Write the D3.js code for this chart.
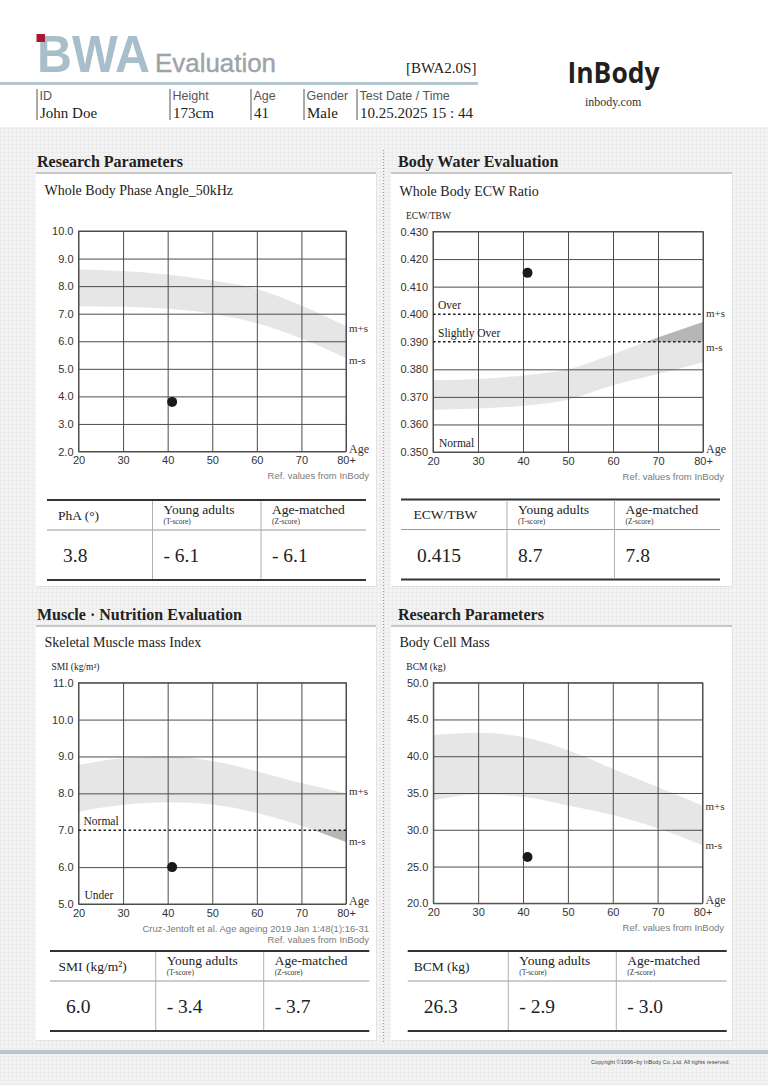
<!DOCTYPE html>
<html>
<head>
<meta charset="utf-8">
<script src="https://cdn.jsdelivr.net/npm/d3@7"></script>
<style>
  body { margin: 0; background: #fff; }
  svg { display: block; }
</style>
</head>
<body>
<div id="page"></div>
<script>
// ---- data ----
var ages = [20, 30, 40, 50, 60, 70, 80];
var ageLabels = ["20", "30", "40", "50", "60", "70", "80+"];

var profileLabels = ["ID", "Height", "Age", "Gender", "Test Date / Time"];
var profileValues = ["John Doe", "173cm", "41", "Male", "10.25.2025 15 : 44"];

var scoreHeaders = ["Young adults", "Age-matched"];
var scoreSubs = ["(T-score)", "(Z-score)"];

// Whole body phase angle 50kHz
var phaTicks = [2, 3, 4, 5, 6, 7, 8, 9, 10];
var phaUpper = [8.6, 8.55, 8.42, 8.2, 7.9, 7.3, 6.55];
var phaLower = [7.27, 7.25, 7.18, 7.0, 6.65, 6.1, 5.38];
var phaMeasured = [41, 3.8];
var phaBandLabels = [6.46, 5.33];
var phaScores = ["3.8", "- 6.1", "- 6.1"];

// Whole body ECW ratio
var ecwTicks = [0.35, 0.36, 0.37, 0.38, 0.39, 0.40, 0.41, 0.42, 0.43];
var ecwUpper = [0.3760, 0.3765, 0.3778, 0.3800, 0.3855, 0.3915, 0.3972];
var ecwLower = [0.3653, 0.3658, 0.3668, 0.3690, 0.3742, 0.3783, 0.3826];
var ecwMeasured = [41, 0.415];
var ecwBandLabels = [0.4003, 0.3879];
var ecwCutoffs = [0.400, 0.390];
var ecwZones = ["Over", "Slightly Over", "Normal"];
var ecwScores = ["0.415", "8.7", "7.8"];

// Skeletal muscle mass index
var smiTicks = [5, 6, 7, 8, 9, 10, 11];
var smiUpper = [8.77, 8.95, 9.0, 8.88, 8.6, 8.28, 8.0];
var smiLower = [7.5, 7.69, 7.76, 7.7, 7.47, 7.12, 6.68];
var smiMeasured = [41, 6.0];
var smiBandLabels = [8.05, 6.70];
var smiCutoffs = [7.0];
var smiZones = ["Normal", "Under"];
var smiScores = ["6.0", "- 3.4", "- 3.7"];

// Body cell mass
var bcmTicks = [20, 25, 30, 35, 40, 45, 50];
var bcmUpper = [42.9, 43.2, 42.6, 40.8, 38.3, 35.8, 33.3];
var bcmLower = [34.0, 34.8, 34.5, 33.3, 32.0, 30.2, 27.9];
var bcmMeasured = [41, 26.3];
var bcmBandLabels = [33.23, 27.92];
var bcmScores = ["26.3", "- 2.9", "- 3.0"];

// ---- drawing ----
var SERIF = "'Liberation Serif', 'Times New Roman', serif";
var SANS = "'Liberation Sans', Arial, sans-serif";

var svg = d3.select("#page").append("svg")
    .attr("width", 768)
    .attr("height", 1085);
var defs = svg.append("defs");

var pat = defs.append("pattern")
    .attr("id", "bgpat")
    .attr("width", 4).attr("height", 4)
    .attr("patternUnits", "userSpaceOnUse");
pat.append("rect").attr("width", 4).attr("height", 4).attr("fill", "#f4f4f4");
pat.append("rect").attr("width", 4).attr("height", 1).attr("fill", "#ececec");
pat.append("rect").attr("width", 1).attr("height", 4).attr("fill", "#ececec");

// page background
svg.append("rect").attr("width", 768).attr("height", 1085).attr("fill", "#fff");
svg.append("rect").attr("y", 127).attr("width", 768).attr("height", 958).attr("fill", "url(#bgpat)");

// header
svg.append("text")
    .attr("x", 37).attr("y", 72)
    .attr("font-family", SANS).attr("font-weight", "bold").attr("font-size", 52)
    .attr("textLength", 113).attr("lengthAdjust", "spacingAndGlyphs")
    .attr("fill", "#a8bfcb")
    .text("BWA");
svg.append("rect").attr("x", 36.5).attr("y", 34).attr("width", 8.5).attr("height", 8).attr("fill", "#a6192e");
svg.append("text")
    .attr("x", 155).attr("y", 72)
    .attr("font-family", SANS).attr("font-size", 25.5)
    .attr("textLength", 121).attr("lengthAdjust", "spacingAndGlyphs")
    .attr("fill", "#9da4a9")
    .attr("stroke", "#9da4a9").attr("stroke-width", 0.4)
    .text("Evaluation");
svg.append("text")
    .attr("x", 406).attr("y", 73)
    .attr("font-family", SERIF).attr("font-size", 15)
    .attr("fill", "#222")
    .text("[BWA2.0S]");
svg.append("rect").attr("x", 0).attr("y", 82).attr("width", 478).attr("height", 3).attr("fill", "#b5c8d2");

var profileX = [37, 170, 251, 304, 357];
profileLabels.forEach(function(lab, i) {
    svg.append("line")
        .attr("x1", profileX[i]).attr("x2", profileX[i])
        .attr("y1", 89).attr("y2", 120)
        .attr("stroke", "#555").attr("stroke-width", 1);
    svg.append("text")
        .attr("x", profileX[i] + 2.5).attr("y", 100)
        .attr("font-family", SANS).attr("font-size", 12.5)
        .attr("fill", "#555")
        .text(lab);
    svg.append("text")
        .attr("x", profileX[i] + 3).attr("y", 118)
        .attr("font-family", SERIF).attr("font-size", 15)
        .attr("fill", "#222")
        .text(profileValues[i]);
});

svg.append("text")
    .attr("x", 567.5).attr("y", 83)
    .attr("font-family", "'Open Sans', Arial, sans-serif").attr("font-weight", 700).attr("font-size", 28)
    .attr("textLength", 92).attr("lengthAdjust", "spacingAndGlyphs")
    .attr("fill", "#231f20")
    .text("InBody");
svg.append("text")
    .attr("x", 585).attr("y", 106)
    .attr("font-family", SERIF).attr("font-size", 12)
    .attr("fill", "#333")
    .text("inbody.com");

// dotted divider between columns
svg.append("line")
    .attr("x1", 383.5).attr("x2", 383.5)
    .attr("y1", 150).attr("y2", 1042)
    .attr("stroke", "#999").attr("stroke-width", 1.2)
    .attr("stroke-dasharray", "1,2");

// footer
svg.append("rect").attr("x", 0).attr("y", 1050).attr("width", 768).attr("height", 4).attr("fill", "#b4c7d1");
svg.append("text")
    .attr("x", 730).attr("y", 1063.5)
    .attr("text-anchor", "end")
    .attr("font-family", SANS).attr("font-size", 5.6)
    .attr("fill", "#444")
    .text("Copyright \u00a91996~by InBody Co.,Ltd. All rights reserved.");

function drawPanel(p) {
    svg.append("rect")
        .attr("x", p.x + 1).attr("y", p.line + 1)
        .attr("width", p.w).attr("height", p.bottom - p.line)
        .attr("fill", "#e2e2e2");
    svg.append("rect")
        .attr("x", p.x).attr("y", p.line)
        .attr("width", p.w).attr("height", p.bottom - p.line)
        .attr("fill", "#fff");
    svg.append("line")
        .attr("x1", p.x).attr("x2", p.x + p.w)
        .attr("y1", p.line).attr("y2", p.line)
        .attr("stroke", "#c8c8c8").attr("stroke-width", 2);
    svg.append("text")
        .attr("x", p.titleX).attr("y", p.line - 6.5)
        .attr("font-family", SERIF).attr("font-weight", "bold").attr("font-size", 16)
        .attr("fill", "#222")
        .text(p.title);
}

function same(a, b) { return Math.abs(a - b) < 1e-9; }

function drawChart(c) {
    var B = c.box;
    var w = B.right - B.left, h = B.bottom - B.top;
    var x = d3.scaleLinear().domain([20, 80]).range([B.left, B.right]);
    var y = d3.scaleLinear().domain(d3.extent(c.ticks)).range([B.bottom, B.top]);
    var g = svg.append("g");
    var cutoffs = c.cutoffs || [];

    g.append("text")
        .attr("x", c.panelX + 8.5).attr("y", B.top - 36)
        .attr("font-family", SERIF).attr("font-size", 14)
        .attr("fill", "#222")
        .text(c.subtitle);
    if (c.unit) {
        g.append("text")
            .attr("x", B.left - 27).attr("y", B.top - 13)
            .attr("font-family", SERIF).attr("font-size", 9.5)
            .attr("fill", "#222")
            .text(c.unit);
    }

    defs.append("clipPath").attr("id", "clip-" + c.id)
        .append("rect").attr("x", B.left).attr("y", B.top).attr("width", w).attr("height", h);

    var band = d3.area()
        .x(function(d, i) { return x(ages[i]); })
        .y0(function(d, i) { return y(c.lower[i]); })
        .y1(function(d) { return y(d); })
        .curve(d3.curveMonotoneX);

    g.append("path")
        .datum(c.upper)
        .attr("d", band)
        .attr("fill", "#e6e6e6")
        .attr("clip-path", "url(#clip-" + c.id + ")");

    if (c.dark) {
        var yc = y(c.dark.value);
        var r = c.dark.side === "above" ? [B.top, yc] : [yc, B.bottom];
        defs.append("clipPath").attr("id", "dark-" + c.id)
            .append("rect").attr("x", B.left).attr("y", r[0]).attr("width", w).attr("height", r[1] - r[0]);
        g.append("path")
            .datum(c.upper)
            .attr("d", band)
            .attr("fill", "#b6b6b6")
            .attr("clip-path", "url(#dark-" + c.id + ")");
    }

    // grid + tick labels
    g.append("g")
        .attr("transform", "translate(" + B.left + ",0)")
        .call(d3.axisLeft(y).tickValues(c.ticks).tickFormat(d3.format(c.fmt)).tickSize(-w).tickPadding(5))
        .call(function(a) { a.select(".domain").remove(); })
        .call(function(a) {
            a.selectAll(".tick line")
                .attr("stroke", "#4d4d4d")
                .attr("stroke-opacity", function(d) {
                    return cutoffs.some(function(v) { return same(v, d); }) ? 0 : 1;
                });
        })
        .call(function(a) {
            a.selectAll("text").attr("font-family", SANS).attr("font-size", 11).attr("fill", "#333");
        });

    g.append("g")
        .attr("transform", "translate(0," + B.bottom + ")")
        .call(d3.axisBottom(x).tickValues(ages).tickFormat(function(d, i) { return ageLabels[i]; }).tickSize(-h).tickPadding(5))
        .call(function(a) { a.select(".domain").remove(); })
        .call(function(a) { a.selectAll(".tick line").attr("stroke", "#4d4d4d"); })
        .call(function(a) {
            a.selectAll("text").attr("font-family", SANS).attr("font-size", 11).attr("fill", "#333");
        });

    g.append("rect")
        .attr("x", B.left).attr("y", B.top).attr("width", w).attr("height", h)
        .attr("fill", "none").attr("stroke", "#4d4d4d").attr("stroke-width", 1);

    // cut-off lines and zone names
    cutoffs.forEach(function(v, i) {
        g.append("line")
            .attr("x1", B.left).attr("x2", B.right)
            .attr("y1", y(v)).attr("y2", y(v))
            .attr("stroke", "#222").attr("stroke-width", 1.4)
            .attr("stroke-dasharray", "2.6,2.4");
        g.append("text")
            .attr("x", B.left + 5).attr("y", y(v) - 5)
            .attr("font-family", SERIF).attr("font-size", 11.5)
            .attr("fill", "#222")
            .text(c.zones[i]);
    });
    if (c.zones) {
        g.append("text")
            .attr("x", B.left + 6).attr("y", B.bottom - 5.5)
            .attr("font-family", SERIF).attr("font-size", 11.5)
            .attr("fill", "#222")
            .text(c.zones[c.zones.length - 1]);
    }

    // m+s / m-s, Age
    ["m+s", "m-s"].forEach(function(t, i) {
        g.append("text")
            .attr("x", B.right + 3).attr("y", y(c.bandLabels[i]))
            .attr("dy", "0.35em")
            .attr("font-family", SERIF).attr("font-size", 11)
            .attr("fill", "#333")
            .text(t);
    });
    g.append("text")
        .attr("x", B.right + 3).attr("y", B.bottom + 1)
        .attr("font-family", SERIF).attr("font-size", 12)
        .attr("fill", "#333")
        .text("Age");

    // notes
    c.notes.forEach(function(t, i) {
        g.append("text")
            .attr("x", c.panelX + 333).attr("y", B.bottom + 27.5 + i * 11)
            .attr("text-anchor", "end")
            .attr("font-family", SANS).attr("font-size", 9.5)
            .attr("fill", "#7a7a7a")
            .text(t);
    });

    // measured point
    g.append("circle")
        .attr("cx", x(c.measured[0]))
        .attr("cy", y(c.measured[1]))
        .attr("r", 5)
        .attr("fill", "#1a1a1a");

    drawTable(c.table, c.tableHead, c.scores);
}

function drawTable(t, head, scores) {
    var cx = t.cols, ty = t.y;
    var g = svg.append("g");
    g.append("line").attr("x1", cx[0]).attr("x2", cx[3]).attr("y1", ty).attr("y2", ty)
        .attr("stroke", "#333").attr("stroke-width", 2);
    g.append("line").attr("x1", cx[0]).attr("x2", cx[3]).attr("y1", ty + 30).attr("y2", ty + 30)
        .attr("stroke", "#9a9a9a").attr("stroke-width", 1);
    g.append("line").attr("x1", cx[0]).attr("x2", cx[3]).attr("y1", ty + 80).attr("y2", ty + 80)
        .attr("stroke", "#333").attr("stroke-width", 2);
    [1, 2].forEach(function(k) {
        g.append("line").attr("x1", cx[k]).attr("x2", cx[k]).attr("y1", ty + 1).attr("y2", ty + 79)
            .attr("stroke", "#b0b0b0").attr("stroke-width", 1);
    });

    g.append("text")
        .attr("x", cx[0] + t.pad).attr("y", ty + 19.5)
        .attr("font-family", SERIF).attr("font-size", 13.5)
        .attr("fill", "#222")
        .text(head);
    scoreHeaders.forEach(function(s, i) {
        g.append("text")
            .attr("x", cx[i + 1] + 11).attr("y", ty + 14.3)
            .attr("font-family", SERIF).attr("font-size", 13.5)
            .attr("fill", "#222")
            .text(s);
        g.append("text")
            .attr("x", cx[i + 1] + 11).attr("y", ty + 24.3)
            .attr("font-family", SERIF).attr("font-size", 7.5)
            .attr("fill", "#333")
            .text(scoreSubs[i]);
    });
    scores.forEach(function(s, i) {
        g.append("text")
            .attr("x", cx[i] + (i === 0 ? 16 : 11)).attr("y", ty + 62)
            .attr("font-family", SERIF).attr("font-size", 19.5)
            .attr("fill", "#222")
            .text(s);
    });
}

drawPanel({ x: 36, w: 340, line: 173, bottom: 586, titleX: 37, title: "Research Parameters" });
drawPanel({ x: 391, w: 341, line: 173, bottom: 586, titleX: 398, title: "Body Water Evaluation" });
drawPanel({ x: 36, w: 340, line: 626, bottom: 1040, titleX: 37, title: "Muscle \u00b7 Nutrition Evaluation" });
drawPanel({ x: 391, w: 341, line: 626, bottom: 1040, titleX: 398, title: "Research Parameters" });

drawChart({
    id: "pha", panelX: 36,
    box: { left: 78.5, right: 346, top: 231, bottom: 451.5 },
    subtitle: "Whole Body Phase Angle_50kHz",
    ticks: phaTicks, fmt: ".1f",
    upper: phaUpper, lower: phaLower,
    bandLabels: phaBandLabels,
    measured: phaMeasured,
    notes: ["Ref. values from InBody"],
    table: { cols: [47, 152.5, 261, 366], y: 500, pad: 11 },
    tableHead: "PhA (\u00b0)",
    scores: phaScores
});

drawChart({
    id: "ecw", panelX: 391,
    box: { left: 433, right: 703, top: 231.5, bottom: 452 },
    subtitle: "Whole Body ECW Ratio",
    unit: "ECW/TBW",
    ticks: ecwTicks, fmt: ".3f",
    upper: ecwUpper, lower: ecwLower,
    bandLabels: ecwBandLabels,
    cutoffs: ecwCutoffs, zones: ecwZones,
    dark: { value: ecwCutoffs[1], side: "above" },
    measured: ecwMeasured,
    notes: ["Ref. values from InBody"],
    table: { cols: [401, 507, 614.5, 720], y: 499.5, pad: 12.5 },
    tableHead: "ECW/TBW",
    scores: ecwScores
});

drawChart({
    id: "smi", panelX: 36,
    box: { left: 78.5, right: 346, top: 682.7, bottom: 904 },
    subtitle: "Skeletal Muscle mass Index",
    unit: "SMI (kg/m\u00b2)",
    ticks: smiTicks, fmt: ".1f",
    upper: smiUpper, lower: smiLower,
    bandLabels: smiBandLabels,
    cutoffs: smiCutoffs, zones: smiZones,
    dark: { value: smiCutoffs[0], side: "below" },
    measured: smiMeasured,
    notes: ["Cruz-Jentoft et al. Age ageing 2019 Jan 1:48(1):16-31", "Ref. values from InBody"],
    table: { cols: [50, 155.7, 263.7, 369.3], y: 951, pad: 8.5 },
    tableHead: "SMI (kg/m\u00b2)",
    scores: smiScores
});

drawChart({
    id: "bcm", panelX: 391,
    box: { left: 433.3, right: 702.5, top: 682.7, bottom: 903.3 },
    subtitle: "Body Cell Mass",
    unit: "BCM (kg)",
    ticks: bcmTicks, fmt: ".1f",
    upper: bcmUpper, lower: bcmLower,
    bandLabels: bcmBandLabels,
    measured: bcmMeasured,
    notes: ["Ref. values from InBody"],
    table: { cols: [407.7, 508.3, 616.3, 726.7], y: 951, pad: 6 },
    tableHead: "BCM (kg)",
    scores: bcmScores
});
</script>
</body>
</html>
